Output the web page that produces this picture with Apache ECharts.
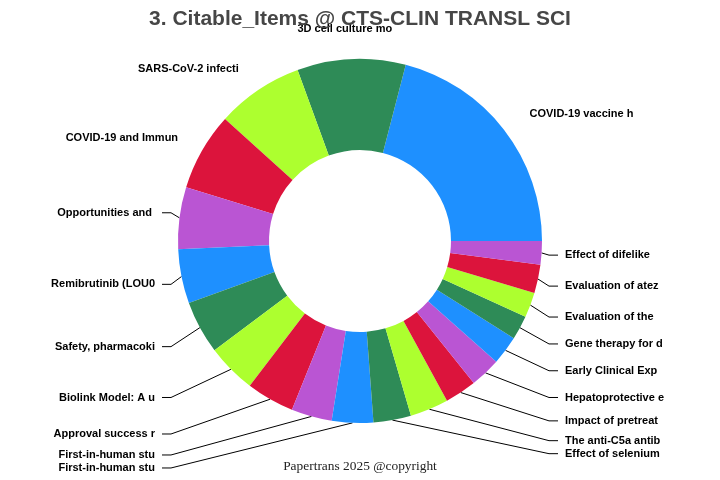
<!DOCTYPE html>
<html>
  <head>
    <meta charset="utf-8" />
    <title>Citable_Items</title>
    <script src="https://cdn.jsdelivr.net/npm/echarts@6/dist/echarts.min.js"></script>
  </head>
  <body style="margin:0">
    <div id="pie" style="width:720px;height:480px;background:#ffffff"></div>
    <script type="text/javascript">
      // titles are cut to 18 characters, as in the picture
      var titles = [
        "COVID-19 vaccine h",
        "3D cell culture mo",
        "SARS-CoV-2 infecti",
        "COVID-19 and Immun",
        "Opportunities and ",
        "Remibrutinib (LOU0",
        "Safety, pharmacoki",
        "Biolink Model: A u",
        "Approval success r",
        "First-in-human stu",
        "First-in-human stu",
        "Effect of selenium",
        "The anti-C5a antib",
        "Impact of pretreat",
        "Hepatoprotective e",
        "Early Clinical Exp",
        "Gene therapy for d",
        "Evaluation of the ",
        "Evaluation of atez",
        "Effect of difelike"
      ];
      var citable = [
        75.4, 34.6, 27.8, 24.9, 19.8, 17.3, 17.0, 15.8, 15.3, 13.0,
        13.2, 12.0, 12.3, 10.1, 9.8, 9.2, 7.7, 8.0, 9.1, 7.5
      ];
      var colors = ["#1E90FF", "#2E8B57", "#ADFF2F", "#DC143C", "#BA55D3"];

      var pieCenter = [360, 241];
      var outerR = 182;

      var pieChart = echarts.init(document.getElementById("pie"));

      var pieData = titles.map(function(name, i) {
        // colour by position: two slices share a title
        var item = {
          name: name,
          value: citable[i],
          itemStyle: { color: colors[i % colors.length] }
        };
        if (i < 4) {
          // the four big slices on top carry their label without a line
          item.label = { alignTo: "none" };
          item.labelLine = { show: false, length: i == 1 ? 30 : 26, length2: 0 };
        } else if (i < 11) {
          // left column sits a little lower
          item.labelLine = { length: 40 };
        }
        return item;
      });

      // small slices: labels stacked in one column per side,
      // a line from the slice to an elbow, then a short flat tail
      function columnLabels(params) {
        if (params.dataIndex < 4) {
          return params.dataIndex == 1 ? { align: "center" } : {};
        }
        var pts = params.labelLinePoints;
        if (!pts) return {};
        var dir = pts[0][0] < pieCenter[0] ? -1 : 1;
        var elbowX = pieCenter[0] + dir * (outerR + 7);
        var y = pts[2][1];
        return {
          x: elbowX + dir * 16,
          y: y,
          align: dir < 0 ? "right" : "left",
          verticalAlign: "middle",
          labelLinePoints: [pts[0], [elbowX, y], [elbowX + dir * 9, y]]
        };
      }

      pieChart.setOption({
        animation: false,
        title: {
          text: "3. Citable_Items @ CTS-CLIN TRANSL SCI",
          left: "center",
          top: 4,
          textStyle: {
            fontFamily: "Liberation Sans",
            fontSize: 21,
            fontWeight: "bold",
            color: "#464646"
          }
        },
        graphic: [
          {
            type: "text",
            left: "center",
            top: 460,
            style: {
              text: "Papertrans 2025 @copyright",
              font: '13.4px "Liberation Serif"',
              fill: "#222"
            }
          }
        ],
        series: [
          {
            type: "pie",
            center: pieCenter,
            radius: [91, outerR],
            startAngle: 0,
            clockwise: false,
            data: pieData,
            label: {
              position: "outside",
              alignTo: "labelLine",
              fontFamily: "Liberation Sans",
              fontSize: 11,
              fontWeight: "bold",
              color: "#000"
            },
            labelLine: {
              length: 34,
              length2: 9,
              lineStyle: { color: "#000", width: 1 }
            },
            labelLayout: columnLabels,
            emphasis: { scale: false }
          }
        ]
      });
    </script>
  </body>
</html>
